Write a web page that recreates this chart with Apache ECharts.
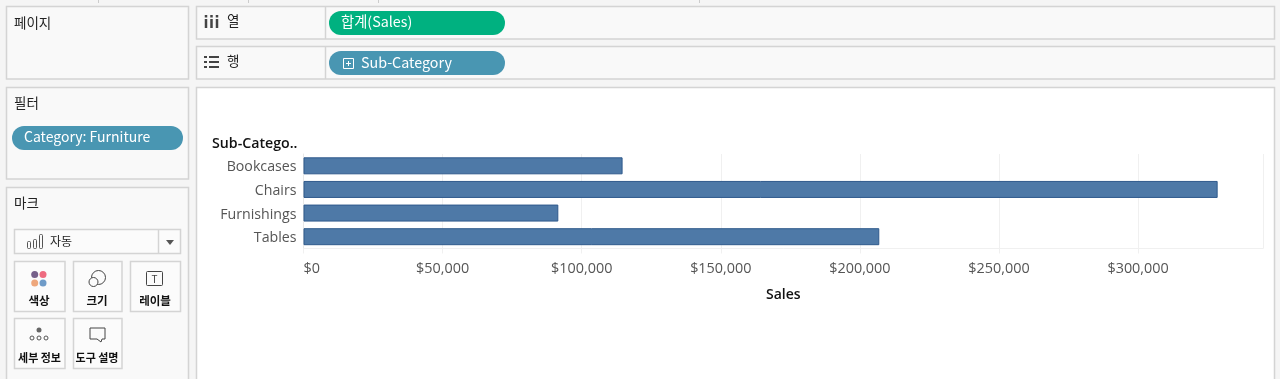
<!DOCTYPE html>
<html>
<head>
<meta charset="utf-8">
<script src="https://cdn.jsdelivr.net/npm/echarts@6/dist/echarts.min.js"></script>
<style>
html,body{margin:0;padding:0;background:#f5f5f5;overflow:hidden;}
#char{width:1280px;height:379px;}
</style>
</head>
<body>
<div id="char"></div>
<script>
var categories = ['Bookcases', 'Chairs', 'Furnishings', 'Tables'];
var salesValues = [114700, 328600, 91600, 206970];
var axisMax = 344900;

var KO = '"Noto Sans CJK KR","Noto Sans",sans-serif';
var UI = '"Open Sans","Noto Sans CJK KR",sans-serif';

function box(x, y, w, h, fill, stroke) {
    return {type: 'rect', silent: true, shape: {x: x + 0.5, y: y + 0.5, width: w, height: h},
        style: {fill: fill || '#f9f9f9', stroke: stroke || '#d4d4d4', lineWidth: 1.5}};
}
function pill(x, y, w, h, fill) {
    return {type: 'rect', silent: true, shape: {x: x, y: y, width: w, height: h, r: h / 2},
        style: {fill: fill, stroke: null}};
}
function label(x, y, text, size, color, weight, align, font) {
    return {type: 'text', silent: true, x: x, y: y,
        style: {text: text, fontSize: size, fill: color || '#222', fontFamily: font || KO, fontWeight: weight || 'normal',
            align: align || 'left', verticalAlign: 'middle'}};
}
function line(x1, y1, x2, y2, color, lw) {
    return {type: 'line', silent: true, shape: {x1: x1, y1: y1, x2: x2, y2: y2},
        style: {stroke: color || '#555', lineWidth: lw || 1}};
}
function dot(x, y, r, fill, stroke) {
    return {type: 'circle', silent: true, shape: {cx: x, cy: y, r: r},
        style: {fill: fill || 'none', stroke: stroke || null, lineWidth: 1}};
}

var shelf = [
    // top strip
    line(98.5, 0, 98.5, 3, '#ccc'), line(248.5, 0, 248.5, 3, '#ccc'), line(378.5, 0, 378.5, 3, '#ccc'), line(699.5, 0, 699.5, 3, '#ccc'),
    // panels
    box(6, 6, 182, 72.5), box(196, 6, 1078, 32.5), box(196, 46, 1078, 32.5),
    box(6, 87, 182, 91.5), box(6, 187, 182, 200),
    line(325.5, 7, 325.5, 39, '#d4d4d4', 1.5), line(325.5, 47, 325.5, 79, '#d4d4d4', 1.5),
    label(14, 23, '페이지', 13.5), label(14, 103, '필터', 13.5), label(14, 203, '마크', 13.5),
    // columns
    line(206, 19, 206, 28, '#444', 2.5), line(211.5, 19, 211.5, 28, '#444', 2.5), line(217, 19, 217, 28, '#444', 2.5),
    line(206, 15, 206, 17.5, '#444', 2.5), line(211.5, 15, 211.5, 17.5, '#444', 2.5), line(217, 15, 217, 17.5, '#444', 2.5),
    label(227, 21, '열', 13.5),
    pill(329, 11, 176, 24, '#00b180'), label(341, 22, '합계(Sales)', 14.3, '#fff'),
    // rows
    line(209, 57, 219, 57, '#444', 2), line(209, 62, 219, 62, '#444', 2), line(209, 67, 219, 67, '#444', 2),
    line(204, 57, 207, 57, '#444', 2), line(204, 62, 207, 62, '#444', 2), line(204, 67, 207, 67, '#444', 2),
    label(227, 61, '행', 13.5),
    pill(329, 51, 176, 24, '#4996b2'),
    {type: 'rect', silent: true, shape: {x: 343.5, y: 58.5, width: 10, height: 10}, style: {fill: 'none', stroke: '#fff', lineWidth: 1}},
    line(346, 63.5, 351, 63.5, '#fff'), line(348.5, 61, 348.5, 66, '#fff'),
    label(361, 63, 'Sub-Category', 14.3, '#fff'),
    // filter
    pill(12, 126, 171, 24, '#4996b2'), label(24, 137, 'Category: Furniture', 14, '#fff'),
    // marks dropdown
    box(14, 229, 166, 24, '#fbfbfb'), line(158.5, 230, 158.5, 253, '#d4d4d4', 1.5),
    {type: 'polygon', silent: true, shape: {points: [[166, 240], [174, 240], [170, 245]]}, style: {fill: '#555'}},
    {type: 'rect', silent: true, shape: {x: 27.5, y: 241.5, width: 3, height: 7, r: 1}, style: {fill: 'none', stroke: '#555'}},
    {type: 'rect', silent: true, shape: {x: 33.5, y: 239.5, width: 3, height: 9, r: 1}, style: {fill: 'none', stroke: '#555'}},
    {type: 'rect', silent: true, shape: {x: 39.5, y: 234.5, width: 3, height: 14, r: 1}, style: {fill: 'none', stroke: '#555'}},
    label(50, 241, '자동', 12),
    // mark buttons
    box(14, 261, 50.5, 50, '#fbfbfb'), box(73, 261, 48.5, 50, '#fbfbfb'), box(130, 261, 50, 50, '#fbfbfb'),
    box(14, 318, 50.5, 50, '#fbfbfb'), box(73, 318, 48.5, 50, '#fbfbfb'),
    // colour
    dot(34.7, 274.5, 3.5, '#76608a'), dot(43, 274.5, 3.5, '#ee6b80'), dot(34.7, 283, 3.5, '#eea77c'), dot(43, 283, 3.5, '#6f9bc8'),
    label(39, 301, '색상', 11.5, '#111', 'bold', 'center'),
    // size
    dot(98.5, 277.5, 7, null, '#444'), dot(93.5, 282, 4.5, '#fbfbfb', '#444'),
    label(97, 301, '크기', 11.5, '#111', 'bold', 'center'),
    // text label
    {type: 'rect', silent: true, shape: {x: 146.5, y: 271.5, width: 16, height: 14, r: 1}, style: {fill: 'none', stroke: '#444'}},
    label(154.5, 279, 'T', 10, '#444', null, 'center'),
    label(155, 301, '레이블', 11.5, '#111', 'bold', 'center'),
    // detail
    dot(39, 330, 2.5, '#666'), dot(32, 338, 2, null, '#555'), dot(39, 338, 2, null, '#555'), dot(46, 338, 2, null, '#555'),
    label(39.5, 358, '세부 정보', 11, '#111', 'bold', 'center'),
    // tooltip
    {type: 'polygon', silent: true, shape: {points: [[90, 328], [105, 328], [105, 339], [102, 339], [101, 342], [97, 339], [90, 339]]},
        style: {fill: 'none', stroke: '#444'}},
    label(97, 358, '도구 설명', 11, '#111', 'bold', 'center'),
    // view panel, drawn under the grid
    box(196, 87, 1078, 300, '#ffffff')
];

var myChart = echarts.init(document.getElementById('char'));
var option = {
    animation: false,
    backgroundColor: '#f5f5f5',
    textStyle: {fontFamily: UI},
    graphic: {elements: shelf},
    grid: {left: 303.5, top: 154, width: 959.5, height: 94.5, containLabel: false, z: 5},
    xAxis: {
        type: 'value', min: 0, max: axisMax, interval: 50000, z: 5,
        name: 'Sales', nameLocation: 'middle', nameGap: 40,
        nameTextStyle: {color: '#111', fontSize: 14, fontWeight: 600, fontFamily: UI},
        axisLine: {show: true, lineStyle: {color: '#f0f0f0', width: 1}},
        axisTick: {show: true, length: 5, lineStyle: {color: '#f0f0f0'}},
        splitLine: {show: true, lineStyle: {color: '#f0f0f0', width: 1}},
        axisLabel: {
            color: '#555', fontSize: 14.4, margin: 13, fontFamily: UI, showMaxLabel: false,
            alignMinLabel: 'left',
            formatter: function (v) { return '$' + v.toLocaleString('en-US'); }
        }
    },
    yAxis: {
        type: 'category', inverse: true, data: categories, z: 5,
        name: 'Sub-Catego..', nameLocation: 'start', nameGap: 3,
        nameTextStyle: {color: '#111', fontSize: 14.2, fontWeight: 600, align: 'right', padding: [0, 6, 0, 0], fontFamily: UI},
        axisLine: {show: true, lineStyle: {color: '#e8e8e8'}},
        axisTick: {show: false},
        axisLabel: {
            margin: 7,
            formatter: function (v) { return '{a|' + v + '}'; },
            rich: {a: {color: '#555', fontSize: 14.2, fontFamily: UI, padding: [3, 0, 0, 0]}}
        }
    },
    series: [{
        type: 'bar', data: salesValues, barWidth: 17, z: 6,
        itemStyle: {color: '#4e79a7', borderColor: '#2f5a8c', borderWidth: 1}
    }]
};
myChart.setOption(option);
</script>
</body>
</html>
